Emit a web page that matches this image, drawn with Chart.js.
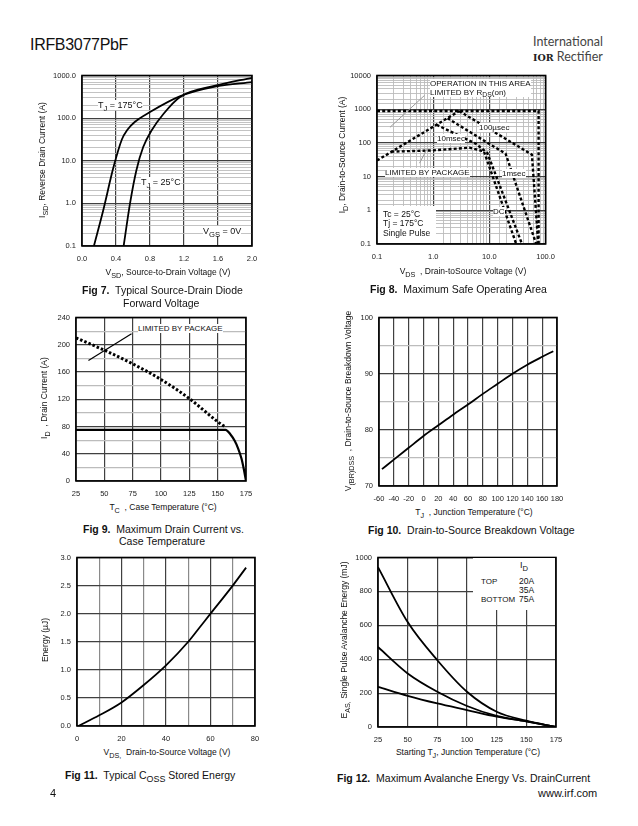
<!DOCTYPE html>
<html>
<head>
<meta charset="utf-8">
<script src="https://cdn.jsdelivr.net/npm/chart.js@4.4.1/dist/chart.umd.min.js"></script>
<style>
body { margin: 0; background: #fff; font-family: "Liberation Sans", Arial, sans-serif; color: #111; }
#page { position: relative; width: 638px; height: 826px; overflow: hidden; }
.abs { position: absolute; white-space: nowrap; line-height: 1.15; }
.cw { position: absolute; }
.t { font-size: 8.5px; transform: translate(-50%, -50%); }
.ty { font-size: 8.5px; transform: translate(-50%, -50%) rotate(-90deg); }
.cap { font-size: 10.5px; }
.note { font-size: 8.5px; background: #fff; }
sub { font-size: 0.85em; vertical-align: -0.35em; line-height: 0; }
</style>
</head>
<body>
<div id="page">
  <!-- page header -->
  <div class="abs" style="left:30px;top:36px;font-size:16px;letter-spacing:-0.3px">IRFB3077PbF</div>
  <div class="abs" style="left:533px;top:35px;font-family:Lato,sans-serif;font-size:12.5px;color:#444">International</div>
  <div class="abs" style="left:533px;top:50px;font-family:Lato,sans-serif;font-size:12.5px;color:#444"><b style="font-family:'DejaVu Serif',serif;font-size:9.5px;color:#222">IOR</b> Rectifier</div>

  <div id="c7" class="cw"></div>
  <div id="c8" class="cw"></div>
  <div id="c9" class="cw"></div>
  <div id="c10" class="cw"></div>
  <div id="c11" class="cw"></div>
  <div id="c12" class="cw"></div>

  <!-- Fig 7 text -->
  <div class="abs note" style="left:98px;top:100px;font-size:9px">T<sub>J</sub> = 175°C</div>
  <div class="abs note" style="left:141px;top:177px;font-size:9px">T<sub>J</sub> = 25°C</div>
  <div class="abs note" style="left:203px;top:226px;font-size:9px">V<sub>GS</sub> = 0V</div>
  <div class="abs t" style="left:168px;top:273px">V<sub>SD</sub>, Source-to-Drain Voltage (V)</div>
  <div class="abs ty" style="left:43px;top:160px">I<sub>SD</sub>, Reverse Drain Current (A)</div>
  <div class="abs cap" style="left:82px;top:284px"><b>Fig 7.</b>&nbsp; Typical Source-Drain Diode</div>
  <div class="abs cap" style="left:123px;top:297px">Forward Voltage</div>

  <!-- Fig 8 text -->
  <div class="abs note" style="left:430px;top:79px;font-size:8px">OPERATION IN THIS AREA<br>LIMITED BY R<sub>DS</sub>(on)</div>
  <div class="abs note" style="left:479px;top:123px;font-size:8px">100µsec</div>
  <div class="abs note" style="left:437px;top:134px;font-size:8px">10msec</div>
  <div class="abs note" style="left:385px;top:168px;font-size:8px">LIMITED BY PACKAGE</div>
  <div class="abs note" style="left:502px;top:169px;font-size:8px">1msec</div>
  <div class="abs note" style="left:493px;top:207px;font-size:8px">DC</div>
  <div class="abs note" style="left:378px;top:206px;width:58px;height:37px"></div>
  <div class="abs" style="left:383px;top:210px;font-size:8.5px;line-height:9.3px">Tc = 25°C<br>Tj = 175°C<br>Single Pulse</div>
  <div class="abs t" style="left:463px;top:272px">V<sub>DS</sub>&nbsp; , Drain-toSource Voltage (V)</div>
  <div class="abs ty" style="left:343px;top:155px">I<sub>D</sub>, Drain-to-Source Current (A)</div>
  <div class="abs cap" style="left:370px;top:283px"><b>Fig 8.</b>&nbsp; Maximum Safe Operating Area</div>

  <!-- Fig 9 text -->
  <div class="abs note" style="left:138px;top:324px;font-size:8px">LIMITED BY PACKAGE</div>
  <div class="abs t" style="left:163px;top:508px">T<sub>C</sub>&nbsp; , Case Temperature (°C)</div>
  <div class="abs ty" style="left:45px;top:398px">I<sub>D</sub>&nbsp; , Drain Current (A)</div>
  <div class="abs cap" style="left:83px;top:523px"><b>Fig 9.</b>&nbsp; Maximum Drain Current vs.</div>
  <div class="abs cap" style="left:119px;top:535px">Case Temperature</div>

  <!-- Fig 10 text -->
  <div class="abs t" style="left:474px;top:513px">T<sub>J</sub>&nbsp; , Junction Temperature (°C)</div>
  <div class="abs ty" style="left:349px;top:401px">V<sub>(BR)DSS</sub>&nbsp; , Drain-to-Source Breakdown Voltage</div>
  <div class="abs cap" style="left:368px;top:524px"><b>Fig 10.</b>&nbsp; Drain-to-Source Breakdown Voltage</div>

  <!-- Fig 11 text -->
  <div class="abs t" style="left:167px;top:753px">V<sub>DS,</sub>&nbsp; Drain-to-Source Voltage (V)</div>
  <div class="abs ty" style="left:46px;top:640px">Energy (µJ)</div>
  <div class="abs cap" style="left:65px;top:769px"><b>Fig 11.</b>&nbsp; Typical C<sub>OSS</sub> Stored Energy</div>

  <!-- Fig 12 text -->
  <div class="abs note" style="left:473px;top:558px;width:82px;height:52px"></div>
  <div class="abs" style="left:520px;top:560px;font-size:9px">I<sub>D</sub></div>
  <div class="abs" style="left:481px;top:577px;font-size:8px;line-height:9.2px">TOP<br><br>BOTTOM</div>
  <div class="abs" style="left:519px;top:577px;font-size:8.5px;line-height:9.2px">20A<br>35A<br>75A</div>
  <div class="abs t" style="left:468px;top:753px">Starting T<sub>J</sub>, Junction Temperature (°C)</div>
  <div class="abs ty" style="left:345px;top:640px">E<sub>AS,</sub> Single Pulse Avalanche Energy (mJ)</div>
  <div class="abs cap" style="left:337px;top:772px"><b>Fig 12.</b>&nbsp; Maximum Avalanche Energy Vs. DrainCurrent</div>

  <!-- footer -->
  <div class="abs" style="left:50px;top:787px;font-size:11px">4</div>
  <div class="abs" style="left:538px;top:787px;font-size:11px">www.irf.com</div>
</div>

<script>
// Fig 7 - source-drain diode forward voltage
const fig7V175 = [0.14, 0.25, 0.37, 0.47, 0.53, 0.62, 0.80, 1.15, 1.58, 2.0];
const fig7I175 = [0.1, 0.69, 7, 32, 52, 81, 139, 323, 553, 700];
const fig7V25 = [0.49, 0.565, 0.64, 0.72, 0.82, 0.96, 1.15, 1.58, 2.0];
const fig7I25 = [0.1, 1.0, 6, 21, 52, 127, 310, 583, 884];
const fig7YLabels = ["0.1", "1.0", "10.0", "100.0", "1000.0"];

// Fig 8 - safe operating area
const fig8LimitV = [0.1, 75, 75];
const fig8LimitI = [880, 880, 0.1];
const fig8RdsV = [0.1, 2.9];
const fig8RdsI = [30, 880];
const fig8Us100V = [2.9, 57, 74];
const fig8Us100I = [880, 45, 0.1];
const fig8Ms1V = [1.8, 9.8, 19.4, 68];
const fig8Ms1I = [540, 95, 48, 0.1];
const fig8Ms10V = [1.15, 5.7, 9.2, 38];
const fig8Ms10I = [345, 95, 50, 0.1];
const fig8DcV = [0.18, 1.0, 4.4, 8.0, 30];
const fig8DcI = [55, 60, 72, 56, 0.1];
const fig8ArrowAV = [0.17, 0.70];
const fig8ArrowAI = [290, 2560];
const fig8ArrowBV = [0.57, 0.79];
const fig8ArrowBI = [25, 69];
const fig8XLabels = ["0.1", "1.0", "10.0", "100.0"];
const fig8YLabels = ["0.1", "1", "10", "100", "1000", "10000"];

// Fig 9 - max drain current vs case temperature
const fig9SiT = [25, 50, 75, 100, 125, 150, 156];
const fig9SiI = [210, 192, 172, 149, 121, 87, 80];
const fig9PkgT = [25, 157, 161, 165, 168, 171, 173, 175];
const fig9PkgI = [75, 75, 69, 59, 48, 33, 18, 0];
const fig9PtrT = [36, 74];
const fig9PtrI = [177, 216];

// Fig 10 - breakdown voltage vs junction temperature
const fig10T = [-56, -40, -20, 0, 20, 40, 60, 80, 100, 120, 140, 160, 175];
const fig10V = [73.0, 74.7, 76.8, 78.9, 80.8, 82.7, 84.5, 86.4, 88.2, 90.0, 91.6, 93.0, 94.0];

// Fig 11 - Coss stored energy
const fig11V = [0.6, 10, 20, 30, 40, 50, 55, 60, 70, 76];
const fig11E = [0, 0.19, 0.42, 0.73, 1.08, 1.5, 1.75, 2.0, 2.5, 2.82];

// Fig 12 - avalanche energy
const fig12T = [25, 50, 75, 100, 125, 150, 175];
const fig12E20 = [943, 619, 394, 208, 90, 37, 0];
const fig12E35 = [472, 316, 208, 124, 65, 33, 0];
const fig12E75 = [237, 184, 139, 100, 61, 33, 0];

const YW = 40, PT = 10, PR = 16, XH = 20;
const FONT = { family: "'Liberation Sans', Arial, sans-serif", size: 7.5 };
const MAJOR = '#404040', MID = '#8a8a8a', MINOR = '#bcbcbc';

function pts(xs, ys) {
  return xs.map((x, i) => ({ x: x, y: ys[i] }));
}

function isDecade(v) {
  const e = Math.log10(v);
  return Math.abs(e - Math.round(e)) < 1e-6;
}

// black frame round the plot area
const framePlugin = {
  id: 'frame',
  afterDatasetsDraw(chart) {
    const a = chart.chartArea, ctx = chart.ctx;
    ctx.save();
    ctx.strokeStyle = '#000';
    ctx.lineWidth = 1.6;
    ctx.strokeRect(a.left, a.top, a.right - a.left, a.bottom - a.top);
    ctx.restore();
  }
};

function line(data, opts) {
  return Object.assign({
    data: data, showLine: true, borderColor: '#000', borderWidth: 1.8,
    pointRadius: 0, fill: false, cubicInterpolationMode: 'monotone'
  }, opts || {});
}

function dotted(data, opts) {
  return line(data, Object.assign({ borderWidth: 2.4, borderDash: [3, 2.2], cubicInterpolationMode: 'default', tension: 0 }, opts || {}));
}

function linAxis(min, max, step, label, gridColor, pad) {
  return {
    type: 'linear', min: min, max: max,
    ticks: { stepSize: step, font: FONT, color: '#222', padding: pad, autoSkip: false, maxRotation: 0, callback: label },
    grid: { drawTicks: false, color: gridColor, lineWidth: 1.2 },
    border: { display: false }
  };
}

function logAxis(min, max, labels, pad) {
  const base = Math.round(Math.log10(min));
  return {
    type: 'logarithmic', min: min, max: max,
    ticks: {
      font: FONT, color: '#222', padding: pad, autoSkip: false, maxRotation: 0,
      callback: v => isDecade(v) ? labels[Math.round(Math.log10(v)) - base] : ''
    },
    grid: { drawTicks: false, color: c => isDecade(c.tick.value) ? MAJOR : MINOR, lineWidth: c => isDecade(c.tick.value) ? 1.2 : 0.9 },
    border: { display: false }
  };
}

function makeChart(id, box, datasets, xScale, yScale) {
  const wrap = document.getElementById(id);
  const w = box[2] - box[0] + YW + PR;
  const h = box[3] - box[1] + PT + XH;
  wrap.style.left = (box[0] - YW) + 'px';
  wrap.style.top = (box[1] - PT) + 'px';
  const c = document.createElement('canvas');
  c.width = w; c.height = h;
  c.style.width = w + 'px'; c.style.height = h + 'px';
  wrap.appendChild(c);
  xScale.afterFit = s => { s.height = XH; };
  yScale.afterFit = s => { s.width = YW; };
  return new Chart(c, {
    type: 'scatter',
    data: { datasets: datasets },
    options: {
      responsive: false, animation: false,
      layout: { padding: { left: 0, top: PT, right: PR, bottom: 0 } },
      plugins: { legend: { display: false }, tooltip: { enabled: false } },
      scales: { x: xScale, y: yScale }
    },
    plugins: [framePlugin]
  });
}

// Fig 7
makeChart('c7', [82, 75, 252, 246], [
  line(pts(fig7V175, fig7I175)),
  line(pts(fig7V25, fig7I25))
], linAxis(0, 2.0, 0.4, v => v.toFixed(1), () => MAJOR, 8), logAxis(0.1, 1000, fig7YLabels, 6));

// Fig 8
makeChart('c8', [377, 75, 547, 244], [
  line(pts(fig8ArrowAV, fig8ArrowAI), { borderColor: '#9a9a9a', borderWidth: 1, cubicInterpolationMode: 'default' }),
  line(pts(fig8ArrowBV, fig8ArrowBI), { borderColor: '#9a9a9a', borderWidth: 1, cubicInterpolationMode: 'default' }),
  dotted(pts(fig8LimitV, fig8LimitI)),
  dotted(pts(fig8RdsV, fig8RdsI)),
  dotted(pts(fig8Us100V, fig8Us100I)),
  dotted(pts(fig8Ms1V, fig8Ms1I)),
  dotted(pts(fig8Ms10V, fig8Ms10I)),
  dotted(pts(fig8DcV, fig8DcI))
], logAxis(0.1, 100, fig8XLabels, 8), logAxis(0.1, 10000, fig8YLabels, 6));

// Fig 9
makeChart('c9', [76, 317, 246, 481], [
  line(pts(fig9PtrT, fig9PtrI), { borderWidth: 1.2, cubicInterpolationMode: 'default' }),
  line(pts(fig9SiT, fig9SiI), { borderWidth: 3, borderDash: [2.5, 2] }),
  line(pts(fig9PkgT, fig9PkgI), { borderWidth: 2.2 })
], linAxis(25, 175, 25, v => String(v), () => MAJOR, 8),
   linAxis(0, 240, 20, v => v % 40 === 0 ? String(v) : '', c => c.tick.value % 40 === 0 ? MAJOR : MINOR, 6));

// Fig 10
makeChart('c10', [379, 317, 557, 486], [
  line(pts(fig10T, fig10V))
], linAxis(-60, 180, 20, v => String(v), () => MAJOR, 8),
   linAxis(70, 100, 5, v => v % 10 === 0 ? String(v) : '', c => c.tick.value % 10 === 0 ? MAJOR : MINOR, 6));

// Fig 11
makeChart('c11', [77, 557, 255, 726], [
  line(pts(fig11V, fig11E))
], linAxis(0, 80, 10, v => v % 20 === 0 ? String(v) : '', c => c.tick.value % 20 === 0 ? MAJOR : MID, 8),
   linAxis(0, 3.0, 0.5, v => v.toFixed(1), () => MAJOR, 6));

// Fig 12
makeChart('c12', [378, 557, 556, 727], [
  line(pts(fig12T, fig12E20)),
  line(pts(fig12T, fig12E35)),
  line(pts(fig12T, fig12E75))
], linAxis(25, 175, 25, v => String(v), () => MAJOR, 8),
   linAxis(0, 1000, 200, v => String(v), () => MAJOR, 6));
</script>
</body>
</html>
